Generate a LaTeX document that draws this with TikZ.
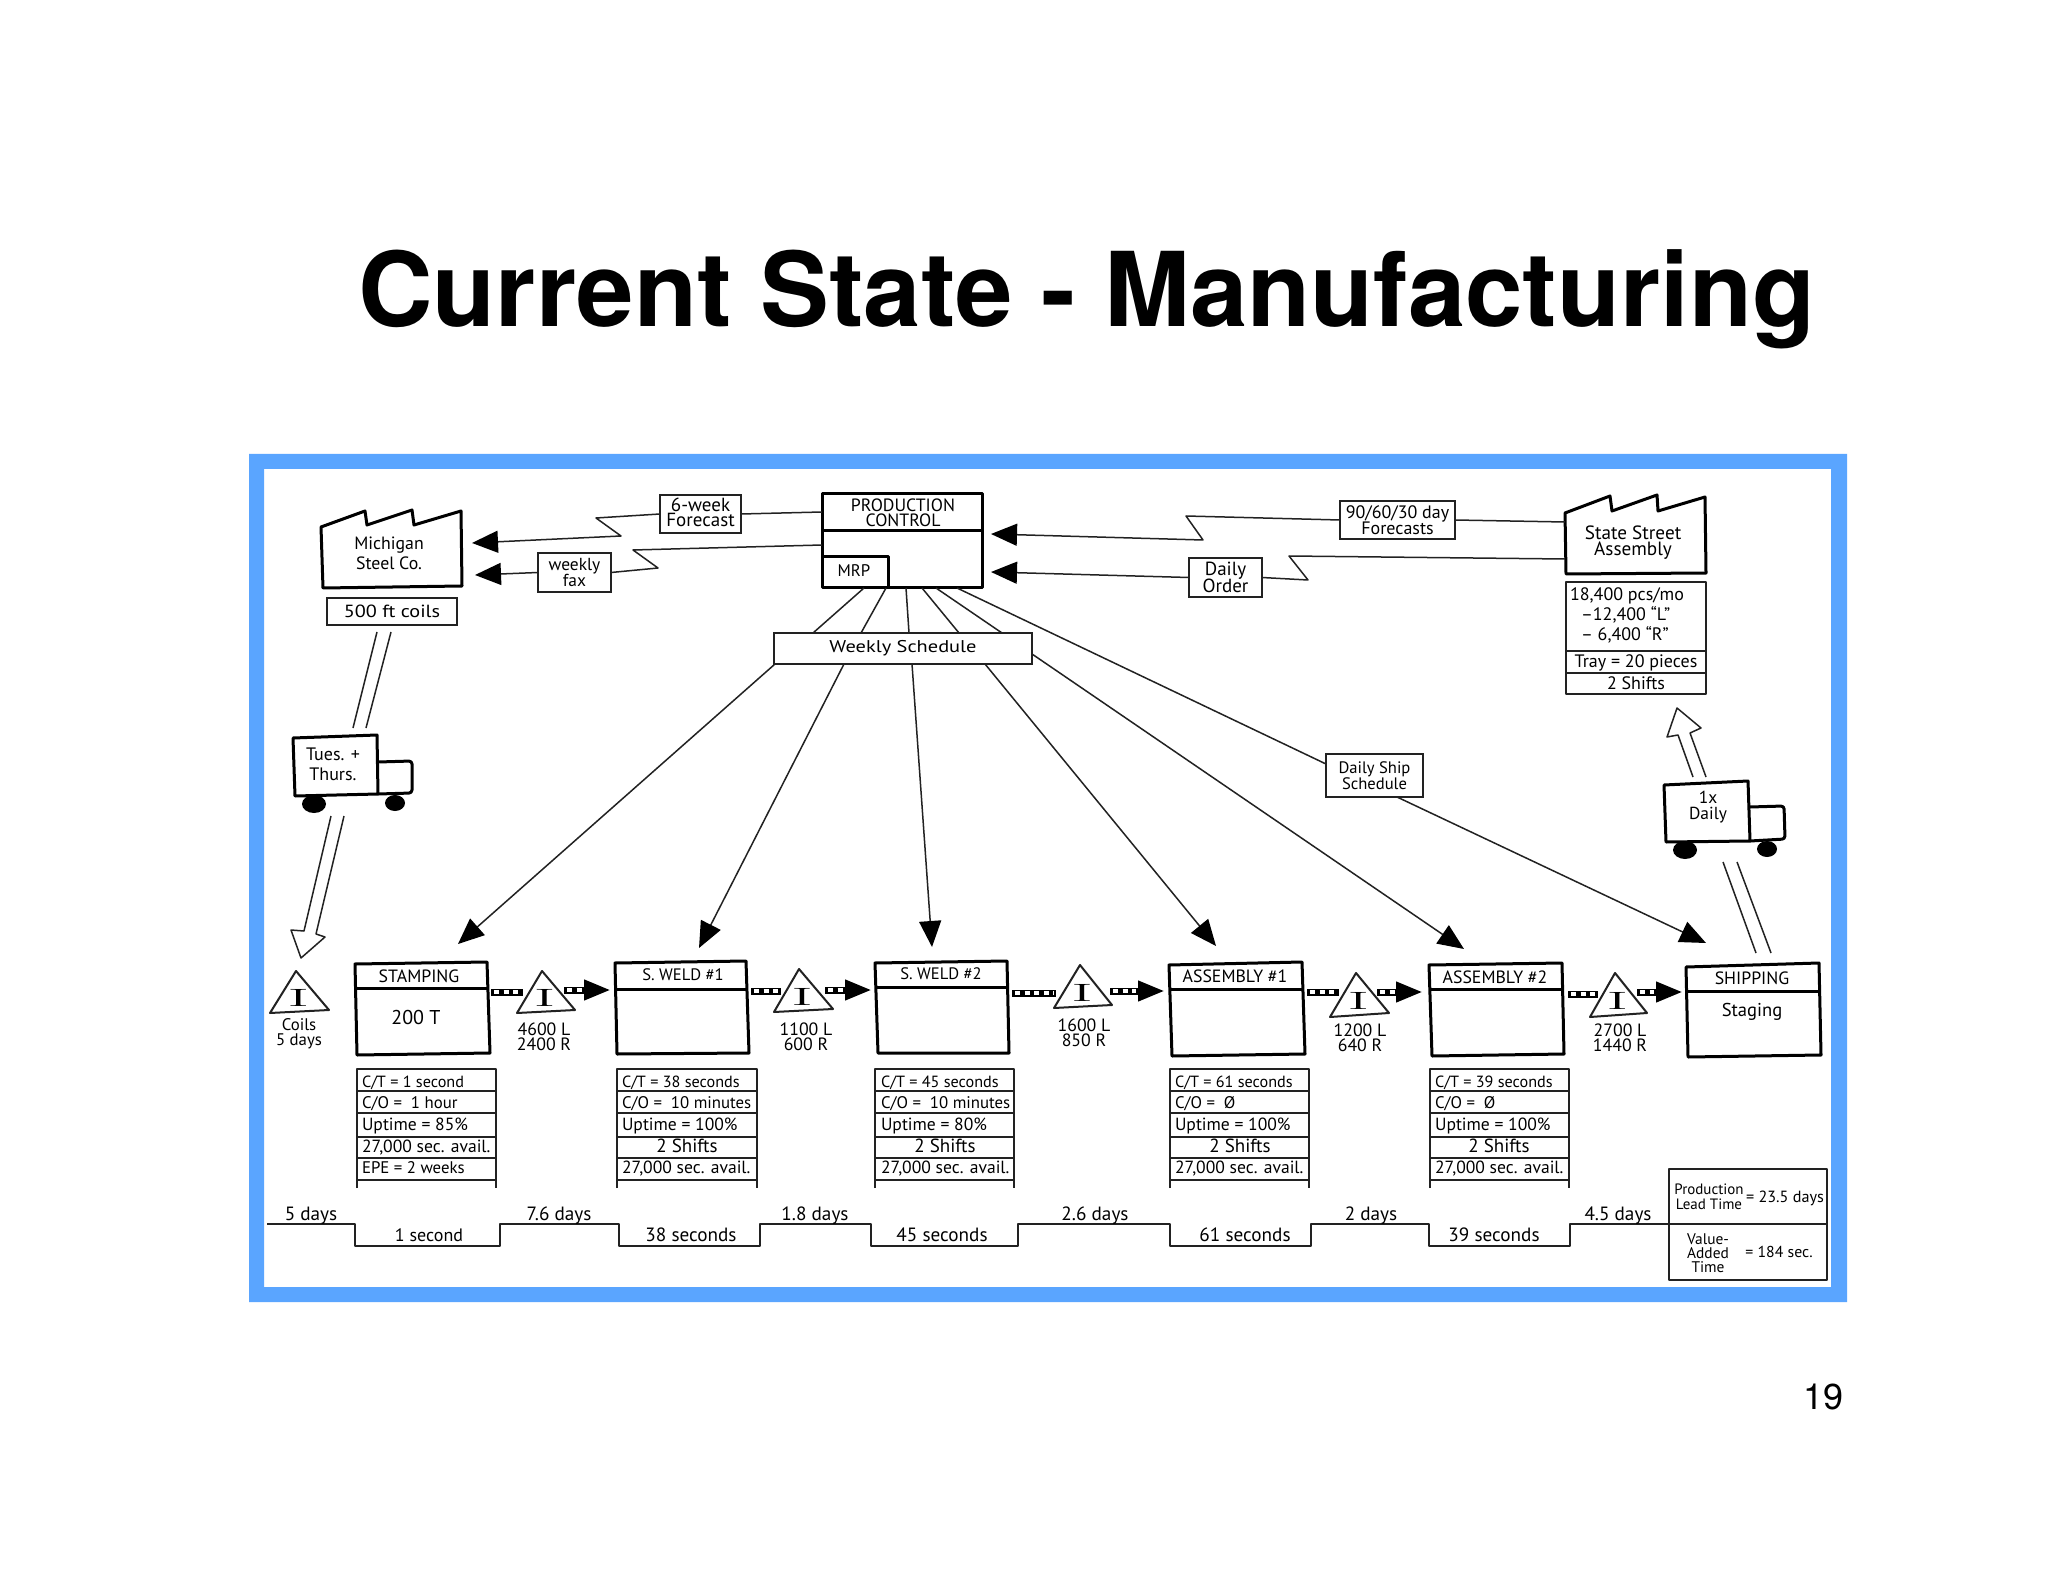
\documentclass[tikz,border=0pt]{standalone}
\usepackage{fontspec}
\usepackage{graphicx}
\setmainfont{PT Sans}
\newfontfamily\titlefont{TeX Gyre Heros}
\usetikzlibrary{arrows.meta,calc}
\definecolor{frameblue}{HTML}{5AA5FF}
\definecolor{ink}{HTML}{222222}
\newcommand{\tightlines}{\setlength{\lineskiplimit}{-10pt}}
\tikzset{
  fs/.style={font=\fontsize{#1}{7.7}\selectfont\tightlines},
  thinln/.style={draw=ink,line width=0.75pt,line join=round},
  hand/.style={draw=black,line width=1.5pt,line join=round},
  tbox/.style={draw=ink,line width=0.75pt,fill=white,inner sep=0pt,outer sep=0pt,align=center},
  lbl/.style={inner sep=0pt,outer sep=0pt,align=center,fs=8.9},
  rowl/.style={inner sep=0pt,outer sep=0pt,anchor=west,fs=8.4,text height=5.6pt,text depth=1.6pt},
  rowc/.style={inner sep=0pt,outer sep=0pt,fs=9.5,text height=5.6pt,text depth=1.6pt},
  tll/.style={inner sep=0pt,outer sep=0pt,fs=9.6,text height=5.6pt,text depth=1.6pt},
  small/.style={inner sep=0pt,outer sep=0pt,align=center,fs=7.5},
  flow/.style={thinln,-{Triangle[length=13pt,width=11pt,color=black]}},
  pushtail/.style={draw=black,line width=3.5pt},
  pushhead/.style={draw=black,line width=3.5pt,-{Triangle[length=13.5pt,width=9.5pt]}},
  pushwin/.style={draw=white,line width=1.6pt,dash pattern=on 2.6pt off 2.2pt,shorten <=1.5pt,shorten >=1pt},
  wheel/.style={fill=black,draw=none},
  isym/.style={inner sep=0pt,outer sep=0pt,font=\usefont{TU}{lmr}{m}{n}\fontsize{12.5}{13}\selectfont},
}
\newcommand{\tbx}[7]{%
  \pgfmathsetmacro{\bxX}{(#2+#4)/2}\pgfmathsetmacro{\bxY}{(#3+#5)/2}%
  \pgfmathsetmacro{\bxW}{(#4-#2)*0.5}\pgfmathsetmacro{\bxH}{(#5-#3)*0.5}%
  \node[tbox,fs=#6,minimum width=\bxW pt,minimum height=\bxH pt] (#1) at (\bxX,\bxY) {#7};}
\newcommand{\tri}[4]{%
  \coordinate (tA#1) at #2; \coordinate (tB#1) at #3; \coordinate (tC#1) at #4;
  \draw[thinln,line width=1pt] (tA#1) -- (tB#1) -- (tC#1) -- cycle;
  \node[isym] (#1) at (barycentric cs:tA#1=1,tB#1=1,tC#1=1) {\scalebox{2.2}[1]{I}};}
\newcommand{\proc}[6]{%
  \coordinate (#1-nw) at #2; \coordinate (#1-ne) at #3; \coordinate (#1-se) at #4; \coordinate (#1-sw) at #5;
  \draw[hand] (#1-nw) -- (#1-ne) -- (#1-se) -- (#1-sw) -- cycle;
  \draw[hand] (#1-nw |- 0,#6) -- (#1-ne |- 0,#6);}
\newcommand{\grid}[3]{%
  \draw[thinln] (#2,1188) -- (#2,1069) -- (#3,1069) -- (#3,1188);
  \foreach \yy in {1091,1113,1137,1158,1180}{\draw[thinln] (#2,\yy) -- (#3,\yy);}
  \coordinate (#1) at (#2,1069);}
\newcommand{\pushbar}[2]{\draw[pushtail] #1 -- #2; \draw[pushwin] #1 -- #2;}
\newcommand{\pusharrow}[3]{\draw[pushhead] #1 -- #3; \draw[pushwin] #1 -- #2;}
\begin{document}
\begin{tikzpicture}[x=0.5pt,y=-0.5pt]
\useasboundingbox (0,0) rectangle (2048,1582);
\fill[white] (0,0) rectangle (2048,1582);
% title and page number
\node[inner sep=0pt,anchor=base west,font=\titlefont\bfseries\fontsize{51.6}{60}\selectfont] (title) at (358,327) {Current State - Manufacturing};
\node[inner sep=0pt,anchor=base,font=\titlefont\fontsize{18}{20}\selectfont] (pagenum) at (1823,1409) {19};
% frame
\path[fill=frameblue,even odd rule] (249,454) rectangle (1847,1302) (264,469) rectangle (1831,1287);

% Michigan factory
\draw[hand] (321,527) -- (365,511) -- (367,525) -- (412,510) -- (414,525) -- (461,511) -- (462,586) -- (323,588) -- cycle;
\node[lbl] (michigan) at (389,553) {Michigan\\[2.2pt]Steel Co.};
\tbx{coils}{327}{598}{457}{625}{8.8}{\scalebox{1.15}[1]{500 ft coils}}
% State street factory
\draw[hand] (1565,513) -- (1610,496) -- (1612,511) -- (1657,495) -- (1658,511) -- (1705,497) -- (1706,573) -- (1566,574) -- cycle;
\node[lbl,fs=9.6] (statest) at (1633,543) {State Street\\[0.3pt]Assembly};
% customer data box
\draw[thinln] (1566,582) rectangle (1706,694);
\draw[thinln] (1566,651) -- (1706,651) (1566,673) -- (1706,673);
\node[rowl,fs=9] (cd1) at (1570,596) {18,400 pcs/mo};
\node[rowl,fs=9] (cd2) at (1581,616) {--12,400 ``L''};
\node[rowl,fs=9] (cd3) at (1581,636) {-- 6,400 ``R''};
\node[rowc,fs=9] (cd4) at (1636,663) {Tray = 20 pieces};
\node[rowc,fs=9] (cd5) at (1636,685) {2 Shifts};

% production control
\draw[hand] (822,494) rectangle (982,587);
\draw[hand] (822,531) -- (982,531);
\draw[hand] (822,587) |- (888,557) -- (888,587);
\node[lbl] (pc) at (903,513) {PRODUCTION\\CONTROL};
\node[lbl,fs=8.4] (mrp) at (854,571) {MRP};

% information boxes
\tbx{sixwk}{660}{495}{741}{533}{9.5}{\raisebox{2pt}{6-week}\\\raisebox{2pt}{Forecast}}
\tbx{fax}{538}{553}{611}{592}{8.7}{weekly\\fax}
\tbx{fc}{1340}{501}{1455}{539}{9}{90/60/30 day\\[0.3pt]Forecasts}
\tbx{dorder}{1189}{558}{1262}{597}{9.5}{Daily\\[0.5pt]Order}
\coordinate (pcL1) at (822,512);
\coordinate (pcL2) at (822,545);
\coordinate (pcR1) at (991,534);
\coordinate (pcR2) at (991,572);
\coordinate (mich1) at (472,543);
\coordinate (mich2) at (475,575);
\coordinate (ssA1) at (1565,522);
\coordinate (ssA2) at (1565,559);
\coordinate (zA1) at (596,518); \coordinate (zA2) at (621,536);
\coordinate (zB1) at (633,550); \coordinate (zB2) at (658,568);
\coordinate (zC1) at (1186,516); \coordinate (zC2) at (1203,540);
\coordinate (zD1) at (1289,556); \coordinate (zD2) at (1308,580);
\draw[thinln] (pcL1) -- (sixwk.east);
\draw[flow] (sixwk.west) -- (zA1) -- (zA2) -- (mich1);
\draw[thinln] (pcL2) -- (zB1) -- (zB2) -- (fax.east);
\draw[flow] (fax.west) -- (mich2);
\draw[thinln] (ssA1) -- (fc.east);
\draw[flow] (fc.west) -- (zC1) -- (zC2) -- (pcR1);
\draw[thinln] (ssA2) -- (zD1) -- (zD2) -- (dorder.east);
\draw[flow] (dorder.west) -- (pcR2);

% weekly schedule
\tbx{wk}{774}{633}{1032}{664}{8.5}{\scalebox{1.2}[1]{Weekly Schedule}}
\tbx{dss}{1326}{754}{1423}{797}{8.3}{Daily Ship\\Schedule}
\coordinate (pb1) at (864,588); \coordinate (wt1) at (813,633);
\coordinate (pb2) at (886,588); \coordinate (wt2) at (861,633);
\coordinate (pb3) at (906,588); \coordinate (wt3) at (909,633);
\coordinate (pb4) at (922,588); \coordinate (wt4) at (959,633);
\coordinate (pb5) at (936,588); \coordinate (wt5) at (1002,633);
\coordinate (pb6) at (957,588); \coordinate (dssin) at (1326,764);
\coordinate (wb1) at (775,664); \coordinate (wb2) at (844,664);
\coordinate (wb3) at (912,664); \coordinate (wb4) at (985,664);
\coordinate (wb5) at (1032,654); \coordinate (dssout) at (1397,797);
\coordinate (tipA) at (458,944); \coordinate (tipB) at (699,948);
\coordinate (tipC) at (932,947); \coordinate (tipD) at (1216,946);
\coordinate (tipE) at (1464,949); \coordinate (tipF) at (1706,943);
\draw[thinln] (pb1) -- (wt1);
\draw[thinln] (pb2) -- (wt2);
\draw[thinln] (pb3) -- (wt3);
\draw[thinln] (pb4) -- (wt4);
\draw[thinln] (pb5) -- (wt5);
\draw[thinln] (pb6) -- (dssin);
\draw[flow] (wb1) -- (tipA);
\draw[flow] (wb2) -- (tipB);
\draw[flow] (wb3) -- (tipC);
\draw[flow] (wb4) -- (tipD);
\draw[flow] (wb5) -- (tipE);
\draw[flow] (dssout) -- (tipF);

% shipment lines and truck (left)
\coordinate (dl1a) at (377,632); \coordinate (dl1b) at (353,728);
\coordinate (dl2a) at (391,632); \coordinate (dl2b) at (366,728);
\draw[thinln] (dl1a) -- (dl1b) (dl2a) -- (dl2b);
\draw[hand] (293,738) -- (377,735) -- (378,794) -- (295,796) -- cycle;
\draw[hand,rounded corners=1.5pt] (378,762) -- (412,761) -- (412,793) -- (378,794);
\fill[wheel] (314,804) ellipse [x radius=12,y radius=9];
\fill[wheel] (395,803) ellipse [x radius=10,y radius=8];
\node[lbl,fs=9] (tl) at (333,764) {Tues. +\\[2.2pt]Thurs.};
\draw[thinln] (331,816) -- (304,931) -- (291,930) -- (301,958) -- (325,937) -- (316,934) -- (344,816);

% truck (right)
\draw[hand] (1664,785) -- (1748,781) -- (1750,841) -- (1666,842) -- cycle;
\draw[hand,rounded corners=1.5pt] (1750,807) -- (1784,806) -- (1785,839) -- (1750,841);
\fill[wheel] (1685,850) ellipse [x radius=12,y radius=9];
\fill[wheel] (1767,849) ellipse [x radius=10,y radius=8];
\node[lbl,fs=8.7] (tr) at (1708,807) {1x\\Daily};
\draw[thinln] (1693,777) -- (1678,735) -- (1667,737) -- (1677,708) -- (1701,728) -- (1690,733) -- (1706,777);
\coordinate (dr1a) at (1723,862); \coordinate (dr1b) at (1756,953);
\coordinate (dr2a) at (1737,862); \coordinate (dr2b) at (1771,953);
\draw[thinln] (dr1a) -- (dr1b) (dr2a) -- (dr2b);

% process boxes
\proc{st}{(355,964)}{(487,962)}{(490,1053)}{(357,1055)}{988}
\proc{w1}{(615,963)}{(746,961)}{(749,1053)}{(617,1054)}{989}
\proc{w2}{(875,963)}{(1007,961)}{(1009,1053)}{(878,1053)}{987}
\proc{a1}{(1169,965)}{(1302,962)}{(1305,1054)}{(1172,1056)}{989}
\proc{a2}{(1429,965)}{(1562,963)}{(1564,1054)}{(1432,1056)}{989}
\proc{sh}{(1686,967)}{(1819,963)}{(1821,1055)}{(1688,1057)}{991}
\node[lbl] (stT) at (419,976) {STAMPING};
\node[lbl,fs=8.3] (w1T) at (683,975) {S. WELD \#1};
\node[lbl,fs=8.3] (w2T) at (941,974) {S. WELD \#2};
\node[lbl] (a1T) at (1235,976) {ASSEMBLY \#1};
\node[lbl] (a2T) at (1495,977) {ASSEMBLY \#2};
\node[lbl] (shT) at (1752,978) {SHIPPING};
\node[lbl,fs=10] (st200) at (416,1017) {200 T};
\node[lbl,fs=9.3] (shS) at (1752,1012) {Staging};

% triangles
\tri{t0}{(296,971)}{(329,1010)}{(270,1013)}
\node[lbl,fs=8.4] (t0L) at (299,1034) {Coils\\5 days};
\tri{t1}{(542,971)}{(575,1010)}{(517,1013)}
\node[lbl] (t1L) at (544,1037) {4600 L\\2400 R};
\tri{t2}{(799,969)}{(833,1009)}{(774,1012)}
\node[lbl] (t2L) at (806,1037) {1100 L\\600 R};
\tri{t3}{(1080,965)}{(1112,1005)}{(1054,1008)}
\node[lbl] (t3L) at (1084,1033) {1600 L\\850 R};
\tri{t4}{(1356,973)}{(1389,1013)}{(1330,1017)}
\node[lbl] (t4L) at (1360,1038) {1200 L\\640 R};
\tri{t5}{(1615,973)}{(1647,1013)}{(1590,1017)}
\node[lbl] (t5L) at (1620,1038) {2700 L\\1440 R};

% push arrows
\pushbar{(491,992)}{(523,992)}
\pusharrow{(564,990)}{(584,990)}{(611,990)}
\pushbar{(751,991)}{(781,991)}
\pusharrow{(825,990)}{(846,990)}{(872,990)}
\pushbar{(1012,993)}{(1056,993)}
\pusharrow{(1110,991)}{(1138,991)}{(1165,991)}
\pushbar{(1307,992)}{(1339,992)}
\pusharrow{(1377,992)}{(1397,992)}{(1423,992)}
\pushbar{(1568,994)}{(1598,994)}
\pusharrow{(1637,992)}{(1656,992)}{(1683,992)}

% data grids
\grid{gst}{357}{496}
\grid{gw1}{617}{757}
\grid{gw2}{875}{1014}
\grid{ga1}{1170}{1309}
\grid{ga2}{1430}{1569}
\node[rowl,fs=8.1] (s1) at (362,1083) {C/T = 1 second};
\node[rowl] (s2) at (362,1104) {C/O = \ 1 hour};
\node[rowl,fs=8.8] (s3) at (362,1126) {Uptime = 85\%};
\node[rowl,fs=8.8] (s4) at (362,1148) {27,000 sec. avail.};
\node[rowl] (s5) at (362,1169) {EPE = 2 weeks};
\node[rowl,fs=8.1] (b1) at (622,1083) {C/T = 38 seconds};
\node[rowl] (b2) at (622,1104) {C/O = \ 10 minutes};
\node[rowl,fs=8.8] (b3) at (622,1126) {Uptime = 100\%};
\node[rowc] (b4) at (687,1148) {2 Shifts};
\node[rowl,fs=8.8] (b5) at (622,1169) {27,000 sec. avail.};
\node[rowl,fs=8.1] (c1) at (881,1083) {C/T = 45 seconds};
\node[rowl] (c2) at (881,1104) {C/O = \ 10 minutes};
\node[rowl,fs=8.8] (c3) at (881,1126) {Uptime = 80\%};
\node[rowc] (c4) at (945,1148) {2 Shifts};
\node[rowl,fs=8.8] (c5) at (881,1169) {27,000 sec. avail.};
\node[rowl,fs=8.1] (d1) at (1175,1083) {C/T = 61 seconds};
\node[rowl] (d2) at (1175,1104) {C/O = \ Ø};
\node[rowl,fs=8.8] (d3) at (1175,1126) {Uptime = 100\%};
\node[rowc] (d4) at (1240,1148) {2 Shifts};
\node[rowl,fs=8.8] (d5) at (1175,1169) {27,000 sec. avail.};
\node[rowl,fs=8.1] (e1) at (1435,1083) {C/T = 39 seconds};
\node[rowl] (e2) at (1435,1104) {C/O = \ Ø};
\node[rowl,fs=8.8] (e3) at (1435,1126) {Uptime = 100\%};
\node[rowc] (e4) at (1499,1148) {2 Shifts};
\node[rowl,fs=8.8] (e5) at (1435,1169) {27,000 sec. avail.};

% timeline
\draw[thinln] (267,1224) -- (355,1224) -- (355,1246) -- (500,1246) -- (500,1224) -- (619,1224) -- (619,1246) -- (760,1246) -- (760,1224) -- (871,1224) -- (871,1246) -- (1018,1246) -- (1018,1224) -- (1170,1224) -- (1170,1246) -- (1311,1246) -- (1311,1224) -- (1429,1224) -- (1429,1246) -- (1570,1246) -- (1570,1224) -- (1669,1224);
\node[tll] (u1) at (311,1216) {5 days};
\node[tll,fs=9] (l1) at (429,1237) {1 second};
\node[tll] (u2) at (559,1216) {7.6 days};
\node[tll] (l2) at (691,1237) {38 seconds};
\node[tll] (u3) at (815,1216) {1.8 days};
\node[tll] (l3) at (942,1237) {45 seconds};
\node[tll] (u4) at (1095,1216) {2.6 days};
\node[tll] (l4) at (1245,1237) {61 seconds};
\node[tll] (u5) at (1371,1216) {2 days};
\node[tll] (l5) at (1494,1237) {39 seconds};
\node[tll] (u6) at (1618,1216) {4.5 days};

% summary box
\draw[thinln] (1669,1169) rectangle (1827,1280);
\draw[thinln] (1669,1224) -- (1827,1224);
\node[small] (plt) at (1709,1197) {Production\\Lead Time};
\node[small,fs=8.1] (pltv) at (1785,1198) {= 23.5 days};
\node[small,fs=7.7] (vat) at (1708,1253) {Value-\\[-0.7pt]Added\\[-0.7pt]Time};
\node[small,fs=7.9] (vatv) at (1779,1252) {= 184 sec.};
\end{tikzpicture}
\end{document}
